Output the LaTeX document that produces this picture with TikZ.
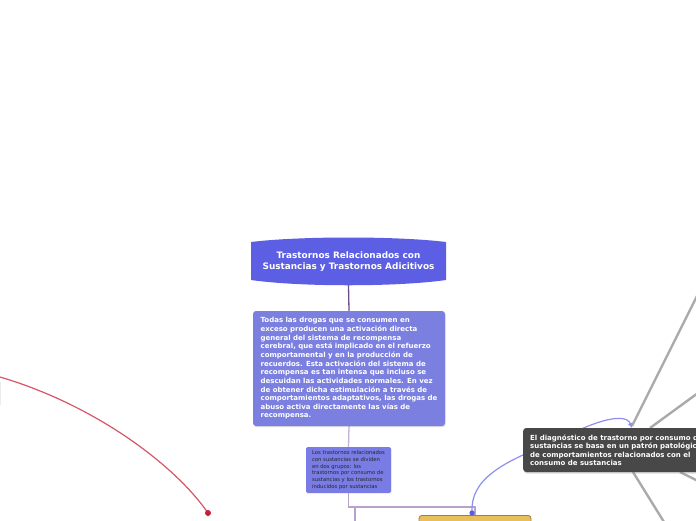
\documentclass[tikz,border=0pt]{standalone}
\usepackage{fontspec}
\setmainfont{DejaVu Sans}
\usetikzlibrary{shadows,arrows.meta}
\definecolor{titleblue}{RGB}{92,95,228}
\definecolor{descblue}{RGB}{123,127,224}
\definecolor{smallblue}{RGB}{120,124,228}
\definecolor{darkbox}{RGB}{72,72,72}
\definecolor{yellowbox}{RGB}{233,191,92}
\definecolor{yellowedge}{RGB}{160,128,60}
\definecolor{conndark}{RGB}{110,80,135}
\definecolor{connlight}{RGB}{196,180,214}
\definecolor{connmid}{RGB}{184,162,204}
\definecolor{bluecurve}{RGB}{140,144,240}
\definecolor{bluedotc}{RGB}{88,92,226}
\definecolor{redcurve}{RGB}{214,85,102}
\definecolor{reddotc}{RGB}{196,30,58}
\definecolor{grayline}{RGB}{170,170,170}
\pgfdeclarelayer{bg}
\pgfsetlayers{bg,main}
\begin{document}
\begin{tikzpicture}[x=1pt,y=-1pt,
  titletext/.style={text=white,font=\bfseries\fontsize{8.9}{11}\selectfont,align=center,
    minimum width=195pt,minimum height=47pt,inner sep=0pt},
  descbox/.style={fill=descblue,rounded corners=3pt,text=white,
    font=\bfseries\fontsize{7}{8.64}\selectfont,align=left,
    minimum width=192pt,inner xsep=6pt,minimum height=115pt,
    drop shadow={opacity=0.25,shadow xshift=0.6pt,shadow yshift=-1.2pt}},
  smallbox/.style={fill=smallblue,rounded corners=1.5pt,text=black!85,
    font=\fontsize{5.3}{6.8}\selectfont,align=left,
    minimum width=85pt,inner xsep=4pt,minimum height=44pt,
    drop shadow={opacity=0.2,shadow xshift=0.4pt,shadow yshift=-0.8pt}},
  darkboxst/.style={fill=darkbox,rounded corners=3pt,text=white,
    font=\bfseries\fontsize{7}{8.5}\selectfont,align=left,
    inner xsep=7pt,minimum height=44pt,
    drop shadow={opacity=0.3,shadow xshift=0.8pt,shadow yshift=-1.5pt}},
  yellowst/.style={fill=yellowbox,draw=yellowedge,line width=0.8pt,rounded corners=3pt,
    minimum width=112pt,minimum height=34pt},
  leftst/.style={fill=white,draw=black!8,line width=0.6pt,minimum width=60pt,minimum height=22pt},
  conntop/.style={draw=conndark,line width=1.3pt},
  connsoft/.style={draw=connlight,line width=1.3pt},
  connelbow/.style={draw=connmid,line width=1.2pt},
  graylink/.style={draw=grayline,line width=2.4pt},
  bluelink/.style={draw=bluecurve,line width=1.2pt},
  redlink/.style={draw=redcurve,line width=1.2pt}
]
\useasboundingbox (0,0) rectangle (696,520);

% title shape
\fill[titleblue] (251,242) .. controls (300,236) and (397,236) .. (446,242)
  -- (446,280) .. controls (397,287) and (300,287) .. (251,280) -- cycle;
\node[titletext] (title) at (348.5,261.5) {Trastornos Relacionados con\\Sustancias y Trastornos Adicitivos};

\node[descbox] (desc) at (349,368.5) {Todas las drogas que se consumen en\\
exceso producen una activación directa\\
general del sistema de recompensa\\
cerebral, que está implicado en el refuerzo\\
comportamental y en la producción de\\
recuerdos. Esta activación del sistema de\\
recompensa es tan intensa que incluso se\\
descuidan las actividades normales. En vez\\
de obtener dicha estimulación a través de\\
comportamientos adaptativos, las drogas de\\
abuso activa directamente las vías de\\
recompensa.};

\node[smallbox] (small) at (348.5,470) {Los trastornos relacionados\\
con sustancias se dividen\\
en dos grupos: los\\
trastornos por consumo de\\
sustancias y los trastornos\\
inducidos por sustancias};

\node[darkboxst,anchor=west] (diag) at (523,450) {El diagnóstico de trastorno por consumo de\\
sustancias se basa en un patrón patológico\\
de comportamientos relacionados con el\\
consumo de sustancias};

\node[yellowst,anchor=north] (yellow) at (475,515) {};
\node[leftst,anchor=east] (leftnode) at (1,393) {};

\coordinate (elbow) at (475,507);
\coordinate (branch) at (355,507);
\coordinate (branchend) at (355,525);
\coordinate (bluedot) at (472,513);
\coordinate (bluemid) at (560,440);
\coordinate (arrowtip) at (632,428);
\coordinate (redstart) at (0,377);
\coordinate (reddot) at (208,513);
\coordinate (g1a) at (632,426);
\coordinate (g1b) at (698,294);
\coordinate (g2a) at (650,428);
\coordinate (g2b) at (698,393);
\coordinate (g3a) at (680,472);
\coordinate (g3b) at (698,481);
\coordinate (g4a) at (633,472);
\coordinate (g4b) at (664,522);

\begin{pgfonlayer}{bg}
\fill[white] (0,0) rectangle (696,520);
\draw[conntop] (title.south) -- (desc.north);
\draw[connsoft] (desc.south) -- (small.north);
\draw[connelbow] (small.south) |- (elbow) -- (yellow.north);
\draw[connelbow] (branch) -- (branchend);
\draw[graylink] (g1a) -- (g1b);
\draw[graylink] (g2a) -- (g2b);
\draw[graylink] (g3a) -- (g3b);
\draw[graylink] (g4a) -- (g4b);
\draw[redlink] (redstart) .. controls (95,405) and (175,465) .. (reddot);
\draw[bluelink,-{Latex[length=5pt,width=5pt]}] (bluedot) .. controls (470,480) and (500,462) .. (bluemid)
  .. controls (585,425) and (625,410) .. (arrowtip);
\end{pgfonlayer}

\fill[bluedotc] (bluedot) circle (2.6pt);
\fill[reddotc] (reddot) circle (3pt);
\end{tikzpicture}
\end{document}
